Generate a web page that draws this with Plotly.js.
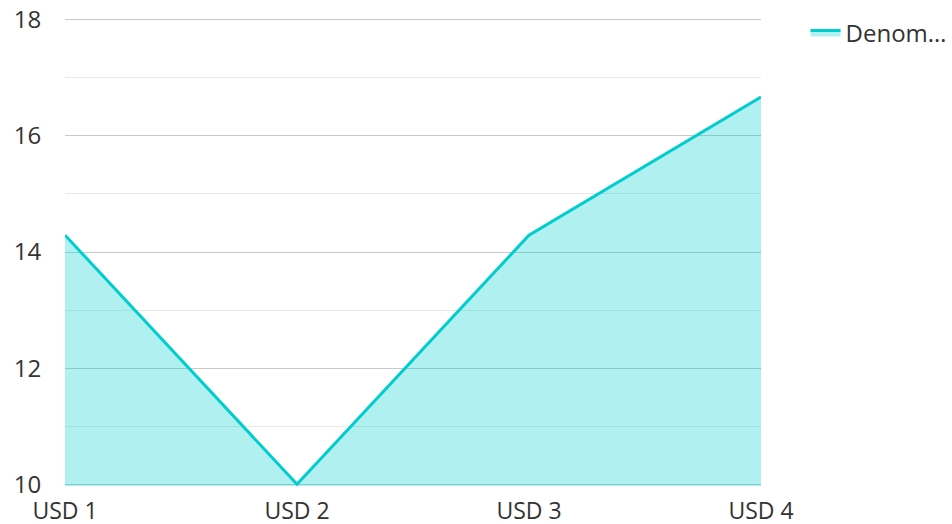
<!DOCTYPE html>
<html>
<head>
<meta charset="utf-8">
<script src="https://cdn.plot.ly/plotly-3.0.1.min.js"></script>
<style>html,body{margin:0;padding:0;background:#fff;}#chart{width:952px;height:524px;}</style>
</head>
<body>
<div id="chart"></div>
<script>
const categories = ["USD 1", "USD 2", "USD 3", "USD 4"];
const values = [14.29, 10, 14.29, 16.67];
const seriesName = "Denom…";
const yTicks = [10, 12, 14, 16, 18];

const trace = {
  x: categories,
  y: values,
  name: seriesName,
  type: "scatter",
  mode: "lines",
  fill: "tozeroy",
  fillcolor: "rgba(0,206,209,0.31)",
  line: {color: "#00cdcd", width: 3}
};

const layout = {
  width: 952, height: 524,
  margin: {l: 65, r: 191, t: 18, b: 38, autoexpand: false},
  paper_bgcolor: "#fff", plot_bgcolor: "#fff",
  font: {family: "Open Sans, Noto Sans, sans-serif", size: 24, color: "#333"},
  showlegend: true,
  legend: {x: 1.064, y: 1.016, xanchor: "left", yanchor: "top", font: {size: 24, color: "#333"}, bgcolor: "rgba(0,0,0,0)"},
  xaxis: {
    type: "category", range: [0, 3], showgrid: false, zeroline: false, showline: false,
    ticks: "outside", ticklen: 4, tickcolor: "rgba(0,0,0,0)", fixedrange: true,
    tickfont: {size: 23}
  },
  yaxis: {
    range: [9.97, 18.03], tickvals: yTicks, showgrid: true, gridcolor: "#c8c8c8", gridwidth: 1,
    zeroline: false, showline: false, ticks: "outside", ticklen: 18, tickcolor: "rgba(0,0,0,0)",
    minor: {dtick: 1, showgrid: true, gridcolor: "#e8e8e8", ticks: ""}
  }
};

Plotly.newPlot("chart", [trace], layout, {displayModeBar: false, staticPlot: true});
</script>
</body>
</html>
